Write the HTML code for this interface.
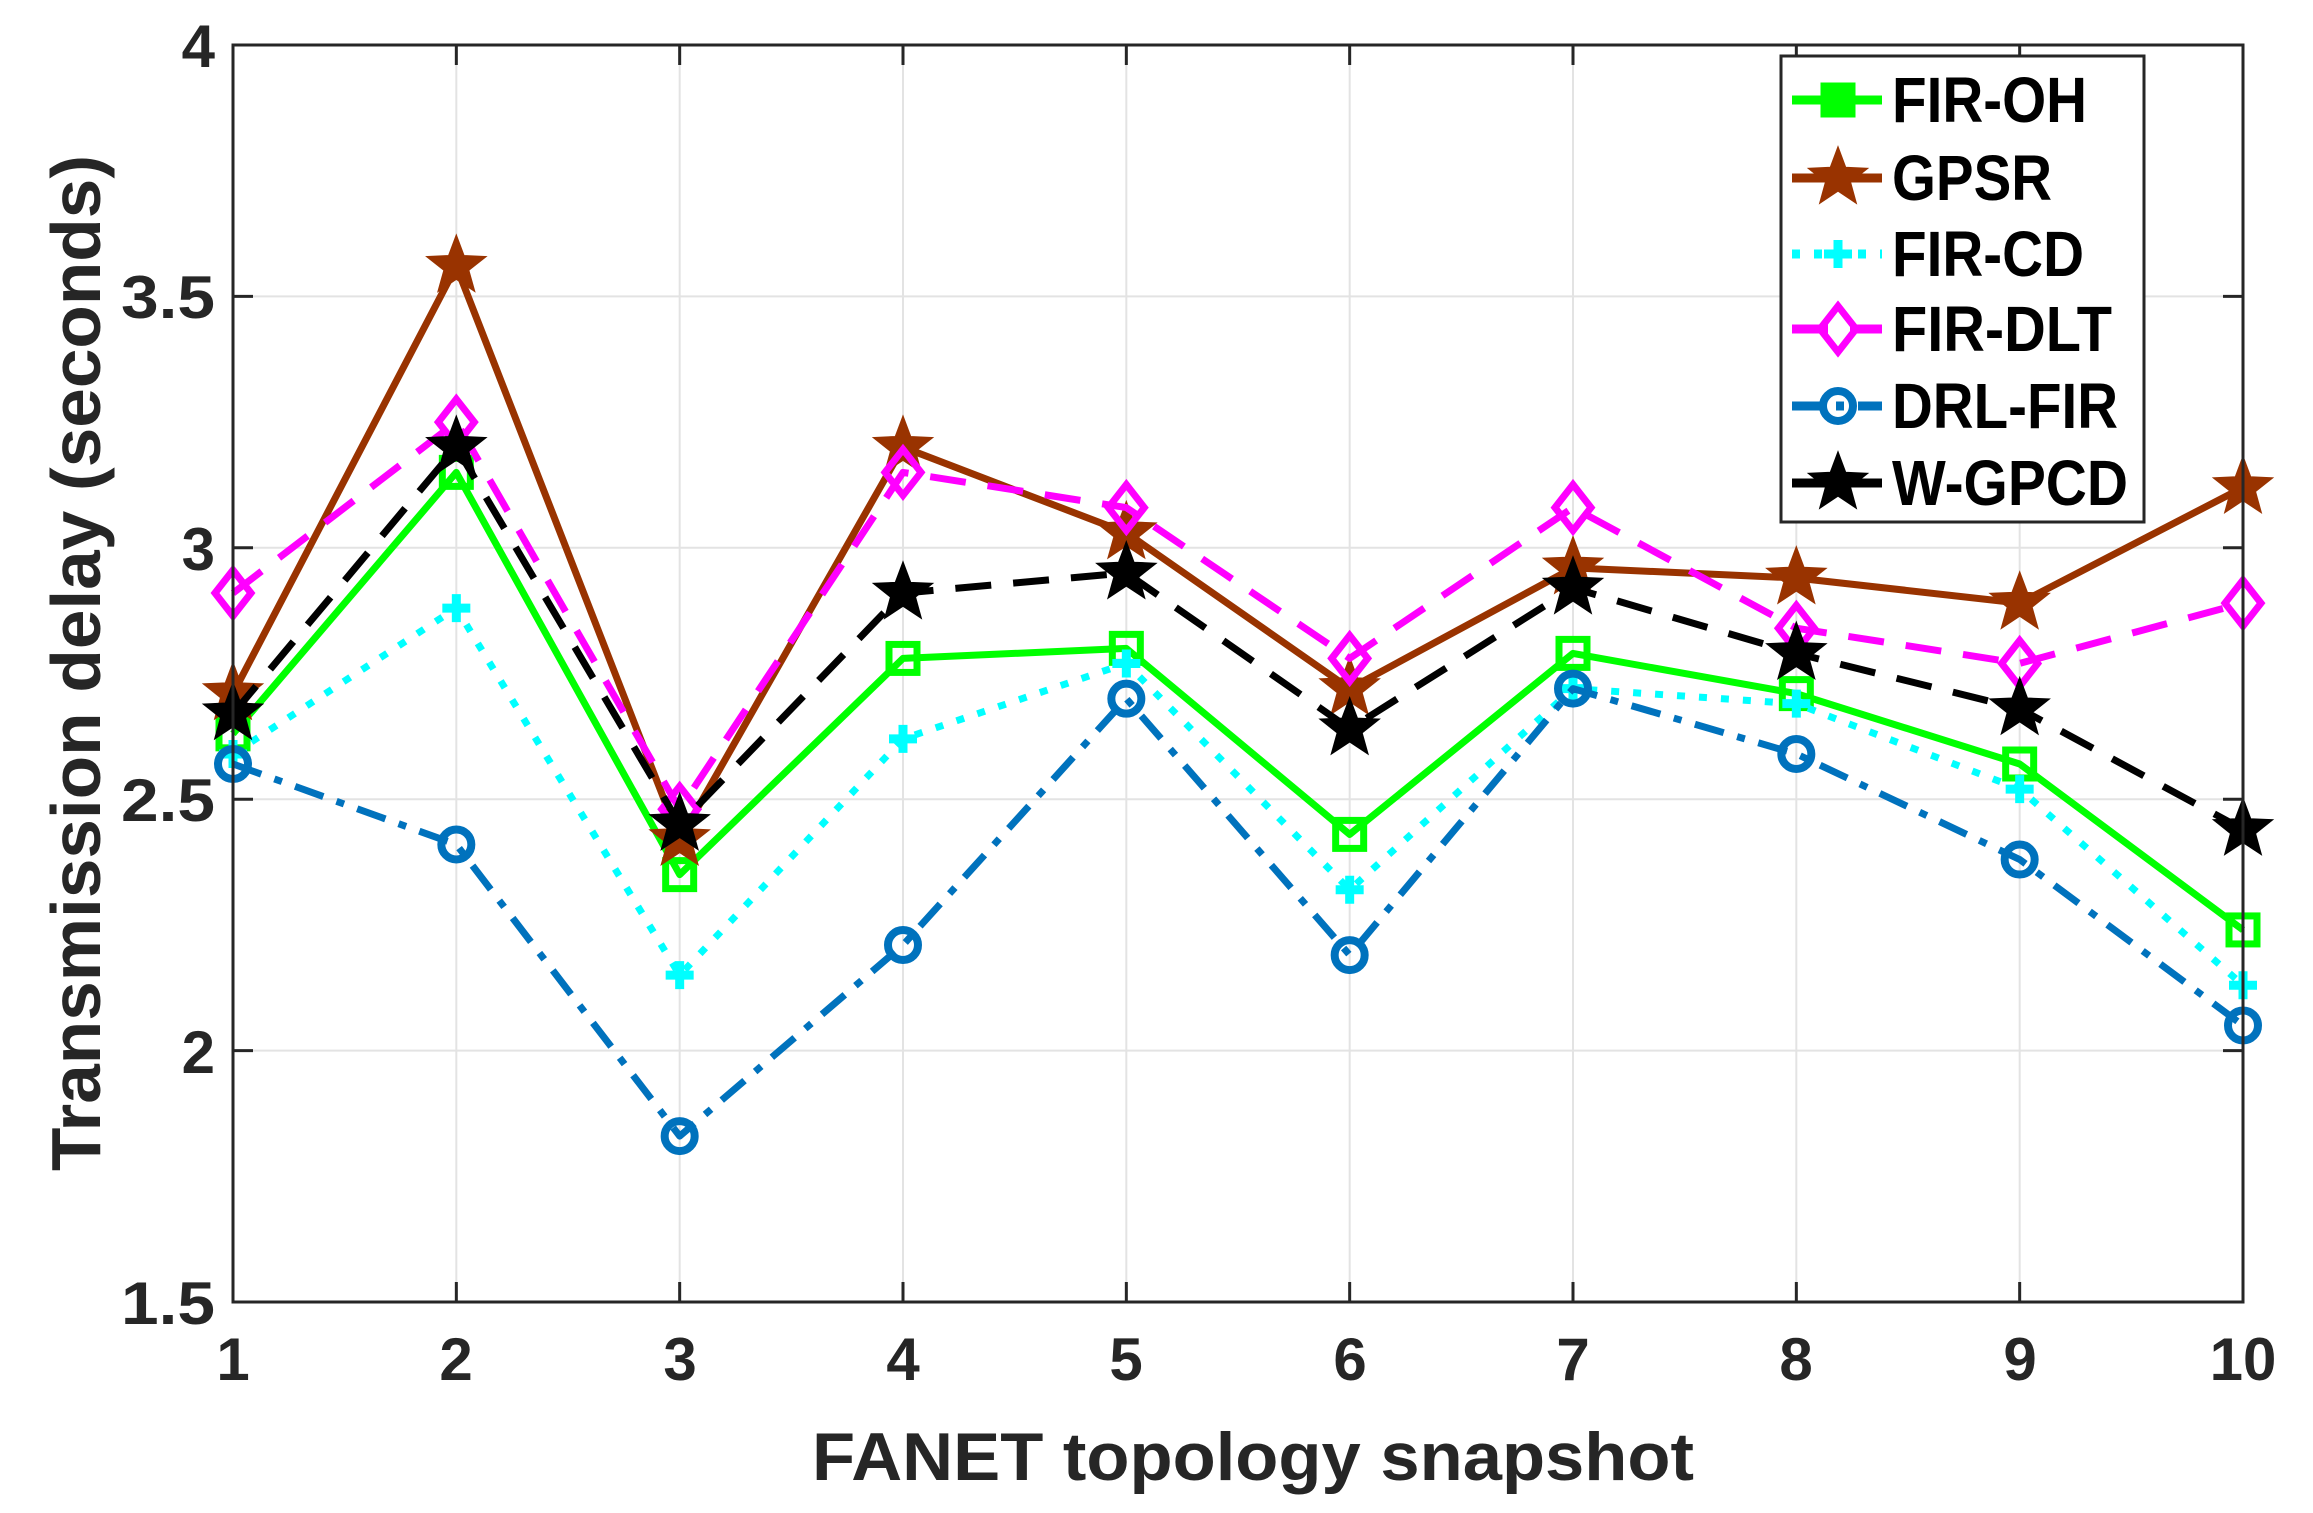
<!DOCTYPE html>
<html><head><meta charset="utf-8"><style>
html,body{margin:0;padding:0;background:#fff;width:2313px;height:1513px;overflow:hidden}
svg text{font-family:"Liberation Sans",Arial,sans-serif;font-weight:bold;fill:#262626}
</style></head><body>
<svg id="s" width="2313" height="1513" xmlns="http://www.w3.org/2000/svg">
<g id="grid"></g>
<g id="series"></g>
<rect x="233" y="45" width="2010" height="1257" fill="none" stroke="#262626" stroke-width="3"/>
<g id="ticks"></g>
<g font-size="60" text-anchor="end">
<text x="215" y="1324" textLength="94" lengthAdjust="spacingAndGlyphs">1.5</text>
<text x="215" y="1073">2</text>
<text x="215" y="821" textLength="94" lengthAdjust="spacingAndGlyphs">2.5</text>
<text x="215" y="570">3</text>
<text x="215" y="318" textLength="94" lengthAdjust="spacingAndGlyphs">3.5</text>
<text x="215" y="67">4</text>
</g>
<g font-size="60" text-anchor="middle">
<text x="233" y="1380">1</text>
<text x="456" y="1380">2</text>
<text x="680" y="1380">3</text>
<text x="903" y="1380">4</text>
<text x="1126" y="1380">5</text>
<text x="1350" y="1380">6</text>
<text x="1573" y="1380">7</text>
<text x="1796" y="1380">8</text>
<text x="2020" y="1380">9</text>
<text x="2243" y="1380">10</text>
</g>
<text x="1253" y="1480" font-size="68" text-anchor="middle" textLength="882" lengthAdjust="spacingAndGlyphs">FANET topology snapshot</text>
<text transform="translate(100,663) rotate(-90)" font-size="70" text-anchor="middle" textLength="1016" lengthAdjust="spacingAndGlyphs">Transmission delay (seconds)</text>
<rect x="1781" y="56" width="363" height="466" fill="#fff" stroke="#262626" stroke-width="3"/>
<g id="leg"></g>
<g font-size="64">
<text x="1892" y="122" style="fill:#000" textLength="195" lengthAdjust="spacingAndGlyphs">FIR-OH</text>
<text x="1892" y="200" style="fill:#000" textLength="160" lengthAdjust="spacingAndGlyphs">GPSR</text>
<text x="1892" y="276" style="fill:#000" textLength="192" lengthAdjust="spacingAndGlyphs">FIR-CD</text>
<text x="1892" y="351" style="fill:#000" textLength="220" lengthAdjust="spacingAndGlyphs">FIR-DLT</text>
<text x="1892" y="428" style="fill:#000" textLength="226" lengthAdjust="spacingAndGlyphs">DRL-FIR</text>
<text x="1892" y="505" style="fill:#000" textLength="236" lengthAdjust="spacingAndGlyphs">W-GPCD</text>
</g>
</svg>
<script>
var NS="http://www.w3.org/2000/svg";
function el(t,a,p){var e=document.createElementNS(NS,t);for(var k in a)e.setAttribute(k,a[k]);p.appendChild(e);return e;}
var L=233,R=2243,T=45,B=1302;
function X(i){return L+(R-L)*(i)/9;}
function Y(v){return B-(v-1.5)*(B-T)/2.5;}
var g=document.getElementById('grid'),tk=document.getElementById('ticks');
for(var i=0;i<10;i++){var x=X(i);el('line',{x1:x,y1:T,x2:x,y2:B,stroke:'#e3e3e3','stroke-width':2},g);
el('line',{x1:x,y1:B,x2:x,y2:B-20,stroke:'#262626','stroke-width':3},tk);el('line',{x1:x,y1:T,x2:x,y2:T+20,stroke:'#262626','stroke-width':3},tk);}
for(var v=1.5;v<=4.01;v+=0.5){var y=Y(v);el('line',{x1:L,y1:y,x2:R,y2:y,stroke:'#e3e3e3','stroke-width':2},g);
el('line',{x1:L,y1:y,x2:L+20,y2:y,stroke:'#262626','stroke-width':3},tk);el('line',{x1:R,y1:y,x2:R-20,y2:y,stroke:'#262626','stroke-width':3},tk);}
function star(cx,cy,r,col,p){var pts=[];for(var k=0;k<10;k++){var a=-Math.PI/2+k*Math.PI/5;var rr=k%2?r*0.42:r;pts.push((cx+rr*Math.cos(a)).toFixed(1)+','+(cy+rr*Math.sin(a)).toFixed(1));}
el('polygon',{points:pts.join(' '),fill:col,stroke:col,'stroke-width':2},p);}
function marker(m,cx,cy,col,p,leg){
if(m=='sq')el('rect',{x:cx-14,y:cy-14,width:28,height:28,fill:leg?col:'none',stroke:col,'stroke-width':7},p);
else if(m=='star')star(cx,cy,30,col,p);
else if(m=='plus'){el('line',{x1:cx-14,y1:cy,x2:cx+14,y2:cy,stroke:col,'stroke-width':9},p);el('line',{x1:cx,y1:cy-14,x2:cx,y2:cy+14,stroke:col,'stroke-width':9},p);}
else if(m=='dia')el('polygon',{points:(cx)+','+(cy-23)+' '+(cx+18)+','+cy+' '+cx+','+(cy+23)+' '+(cx-18)+','+cy,fill:'none',stroke:col,'stroke-width':7},p);
else if(m=='circ')el('circle',{cx:cx,cy:cy,r:15,fill:'none',stroke:col,'stroke-width':8},p);}
var S=[
{c:'#00ff00',d:'',m:'sq',v:[2.63,3.15,2.35,2.78,2.80,2.43,2.79,2.71,2.57,2.24]},
{c:'#993300',d:'',m:'star',v:[2.71,3.56,2.42,3.20,3.03,2.72,2.96,2.94,2.89,3.12]},
{c:'#00ffff',d:'8 14',m:'plus',v:[2.59,2.88,2.15,2.62,2.77,2.32,2.72,2.69,2.52,2.13]},
{c:'#ff00ff',d:'36 22',m:'dia',v:[2.91,3.25,2.48,3.15,3.08,2.78,3.08,2.84,2.77,2.89]},
{c:'#0072bd',d:'30 14 8 14',m:'circ',v:[2.57,2.41,1.83,2.21,2.70,2.19,2.72,2.59,2.38,2.05]},
{c:'#000000',d:'36 22',m:'star',v:[2.67,3.20,2.45,2.91,2.95,2.64,2.92,2.79,2.68,2.44]}];
var sg=document.getElementById('series'),lg=document.getElementById('leg');
var ly=[100,178,254,329,406,483];
S.forEach(function(s,j){var pts=s.v.map(function(v,i){return X(i).toFixed(1)+','+Y(v).toFixed(1)}).join(' ');
var a={points:pts,fill:'none',stroke:s.c,'stroke-width':7,'stroke-linejoin':'round'};if(s.d)a['stroke-dasharray']=s.d;el('polyline',a,sg);
s.v.forEach(function(v,i){marker(s.m,X(i),Y(v),s.c,sg);});
var b={x1:1792,y1:ly[j],x2:1882,y2:ly[j],stroke:s.c,'stroke-width':9};if(s.d)b['stroke-dasharray']=s.d;el('line',b,lg);
marker(s.m,1838,ly[j],s.c,lg,true);});
</script>
</body></html>
